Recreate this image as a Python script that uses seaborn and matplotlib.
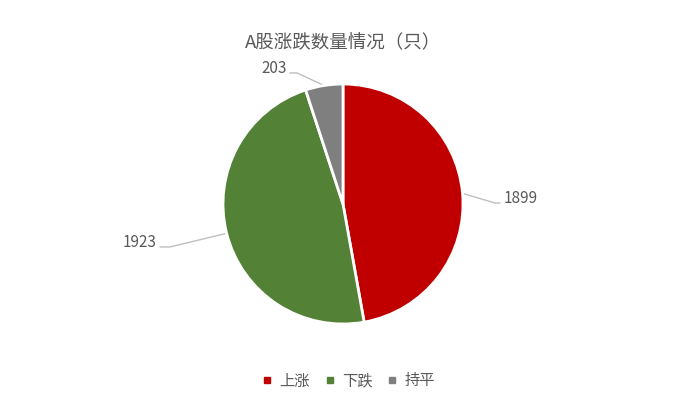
import numpy as np
import matplotlib
matplotlib.use("Agg")
import matplotlib.pyplot as plt
from matplotlib.lines import Line2D
import seaborn as sns

categories = ["上涨", "下跌", "持平"]
values = [1899, 1923, 203]
colors = ["#C00000", "#538135", "#7F7F7F"]
title = "A股涨跌数量情况（只）"

sns.set_theme(style="white")
plt.rcParams['font.family'] = ['Noto Sans CJK SC', 'DejaVu Sans']

W, H = 693, 403
fig = plt.figure(figsize=(W / 100, H / 100), dpi=100)
cx, cy, r = 343, 204, 120
ax = fig.add_axes([(cx - r) / W, (H - cy - r) / H, 2 * r / W, 2 * r / H])

wedges, _ = ax.pie(values, colors=colors, startangle=90, counterclock=False,
                   radius=1, wedgeprops=dict(edgecolor="white", linewidth=2))
ax.set_xlim(-1, 1)
ax.set_ylim(-1, 1)
ax.set_aspect("equal")
ax.axis("off")

# label layout (data coords of axes, radius = 1)
label_layout = [
    # bend point, end point, text pos, ha
    ((1.267, 0.008), (1.31, 0.008), (1.335, 0.05), "left"),
    ((-1.442, -0.358), (-1.525, -0.358), (-1.55, -0.317), "right"),
    ((-0.383, 1.092), (-0.442, 1.092), (-0.465, 1.133), "right"),
]
for w, v, (bend, end, tpos, ha) in zip(wedges, values, label_layout):
    ang = np.deg2rad((w.theta1 + w.theta2) / 2)
    sx, sy = np.cos(ang), np.sin(ang)
    ax.plot([sx, bend[0], end[0]], [sy, bend[1], end[1]], color="#BFBFBF",
            lw=1, clip_on=False, zorder=0)
    ax.text(tpos[0], tpos[1], str(v), ha=ha, va="center", fontsize=11,
            color="#595959", clip_on=False)

fig.text(343 / W, 1 - 43 / H, title, ha="center", va="center", fontsize=13.3,
         color="#595959")

handles = [Line2D([0], [0], marker="s", linestyle="none", markersize=4.5,
                  markerfacecolor=c, markeredgecolor=c) for c in colors]
fig.legend(handles, categories, loc="center", bbox_to_anchor=(348 / W, 1 - 381 / H),
           ncol=3, frameon=False, fontsize=11, handlelength=0.8, handletextpad=0.4,
           columnspacing=0.9, labelcolor="#595959")

fig.savefig("out.png", dpi=100)
